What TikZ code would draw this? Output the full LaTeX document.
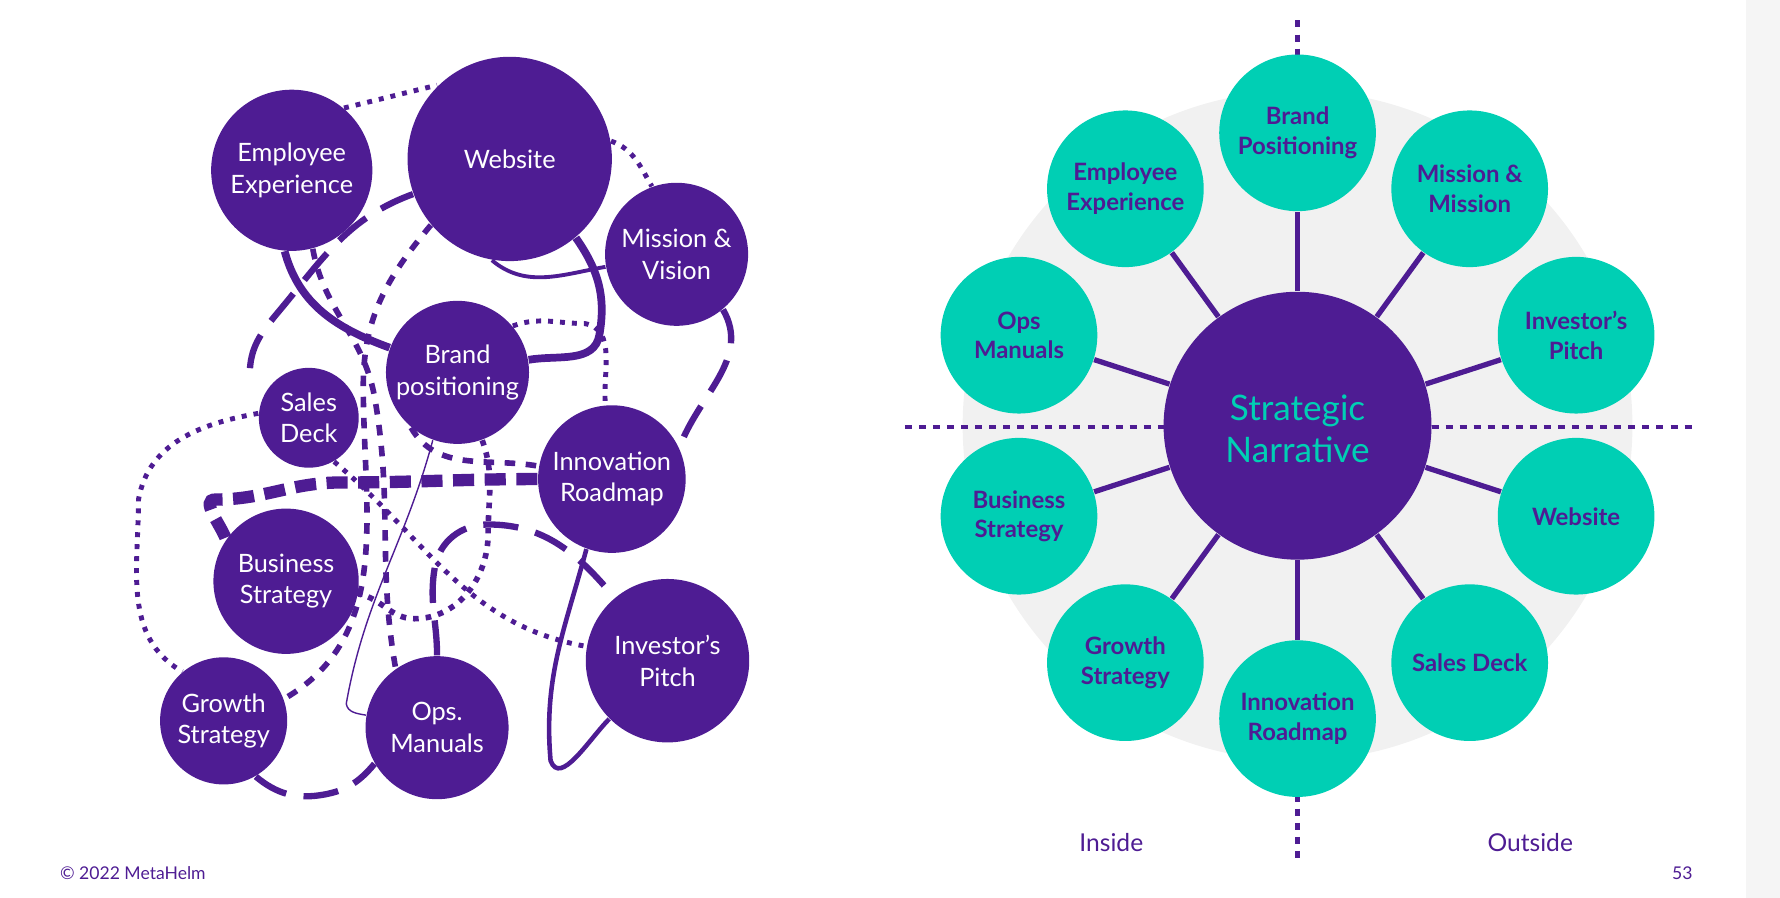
\documentclass[tikz,border=0pt]{standalone}
\usepackage{fontspec}
\setmainfont{Lato}
\usetikzlibrary{calc}
\definecolor{mhpurple}{HTML}{4E1C93}
\definecolor{mhteal}{HTML}{00CFB4}
\definecolor{mhgray}{HTML}{F1F1F1}
\tikzset{
  bub/.style={circle,fill=mhpurple,text=white,align=center,inner sep=0pt,
    minimum size=#1*0.01135cm,font=\fontsize{7.2}{9}\selectfont},
  sat/.style={circle,fill=mhteal,text=mhpurple,align=center,inner sep=0pt,
    minimum size=138*0.01135cm,font=\bfseries\fontsize{6.8}{8.4}\selectfont},
  link/.style={mhpurple,line width=#1},
  link/.default=1pt,
}
\begin{document}
\begin{tikzpicture}[x=0.01135cm,y=-0.01135cm]
\useasboundingbox (0,0) rectangle (1568,791);
\fill[mhgray!70] (1538,0) rectangle (1568,791);

% % Left: tangle of channels
\node[bub=142] (emp) at (257,150) {Employee\\Experience};
\node[bub=180] (web) at (449,140) {Website};
\node[bub=126] (mis) at (596,224) {Mission \&\\Vision};
\node[bub=126] (bra) at (403,328) {Brand\\positioning};
\node[bub=88]  (sal) at (272,368) {Sales\\Deck};
\node[bub=130] (inn) at (539,422) {Innovation\\Roadmap};
\node[bub=128] (bus) at (252,512) {Business\\Strategy};
\node[bub=144] (inv) at (588,582) {Investor’s\\Pitch};
\node[bub=112] (gro) at (197,635) {Growth\\Strategy};
\node[bub=126] (ops) at (385,641) {Ops.\\Manuals};

\draw[link=2.2pt] (emp.-95) to[out=-75,in=160] (bra.160);
\draw[link=2.2pt] (web.-50) to[out=-55,in=80] (528,295) to[out=-100,in=10] (bra.10);
\draw[link=1.1pt] (web.-100) to[out=-40,in=190] (mis.190);
\draw[link=1.3pt] (inn.-110) to[out=-105,in=95] (485,670) to[out=-70,in=-135] (inv.-135);
\draw[link=0.4pt] (bra.-110) to[out=-105,in=80] (305,620) to[out=-80,in=170] (ops.170);
\draw[link=3.5pt,dash pattern=on 6pt off 3pt] (inn.180) to[out=180,in=0] (300,425)
  to[out=180,in=0] (190,440) to[out=180,in=110] (bus.145);
\draw[link=1.6pt,dash pattern=on 3pt off 3pt] (emp.-75) to[out=-80,in=100] (330,350)
  to[out=-80,in=100] (ops.125);
\draw[link=1.6pt,dash pattern=on 3pt off 3pt] (web.-140) to[out=-130,in=90] (320,340)
  to[out=-90,in=30] (gro.20);
\draw[link=1.6pt,dash pattern=on 3pt off 3pt] (bra.-130) to[out=-60,in=170] (inn.170);
\draw[link=1.8pt,dash pattern=on 10pt off 5pt] (web.-160) to[out=-160,in=50] (245,275)
  to[out=-130,in=90] (220,330);
\draw[link=1.8pt,dash pattern=on 10pt off 5pt] (mis.-50) to[out=-60,in=70] (inn.25);
\draw[link=1.8pt,dash pattern=on 10pt off 5pt] (gro.-60) to[out=-40,in=190] (285,700)
  to[out=10,in=-130] (ops.-150);
\draw[link=1.8pt,dash pattern=on 10pt off 5pt] (ops.90) to[out=90,in=-100] (383,500)
  to[out=80,in=180] (430,462) to[out=0,in=130] (inv.130);
\draw[link=1.4pt,dotted] (emp.50) -- (385,75);
\draw[link=1.4pt,dotted] (web.10) to[out=-20,in=120] (mis.110);
\draw[link=1.4pt,dotted] (bra.40) to[out=20,in=180] (515,285) to[out=-10,in=95] (inn.95);
\draw[link=1.4pt,dotted] (sal.175) to[out=190,in=80] (122,440) to[out=-90,in=150] (gro.130);
\draw[link=1.4pt,dotted] (sal.-60) to[out=-40,in=170] (inv.170);
\draw[link=1.6pt,dotted] (bra.-70) to[out=-70,in=90] (430,470) to[out=-90,in=0] (365,545)
  to[out=180,in=-10] (bus.-10);

% % Right: hub and spokes
\coordinate (hub) at (1143,375);
\fill[mhgray] (hub) circle (295);
\draw[mhpurple,line width=1.2pt,dash pattern=on 2pt off 2pt] (1143,18) -- (1143,48);
\draw[mhpurple,line width=1.2pt,dash pattern=on 2pt off 2pt] (1143,700) -- (1143,760);
\draw[mhpurple,line width=1.2pt,dash pattern=on 2pt off 2pt] (797,376) -- (1025,376);
\draw[mhpurple,line width=1.2pt,dash pattern=on 2pt off 2pt] (1261,376) -- (1492,376);
\node[circle,fill=mhpurple,text=mhteal,align=center,minimum size=236*0.01135cm,
  font=\fontsize{10}{12}\selectfont] (sn) at (1143,375) {\raisebox{0pt}[0pt][0pt]{}\\[-3pt]Strategic\\Narrative};
\foreach \ang/\txt [count=\i] in {90/Brand\\Positioning, 54/Mission \&\\Mission,
    18/Investor’s\\Pitch, -18/Website, -54/Sales Deck, -90/Innovation\\Roadmap,
    -126/Growth\\Strategy, -162/Business\\Strategy, 162/Ops\\Manuals,
    126/Employee\\Experience}{
  \node[sat] (s\i) at ($(hub)+({258*cos(\ang)},{-258*sin(\ang)})$) {\txt};
  \draw[mhpurple,line width=1.5pt] (sn) -- (s\i);
}
\node[text=mhpurple,font=\fontsize{7}{8}\selectfont] (ins) at (979,742) {Inside};
\node[text=mhpurple,font=\fontsize{7}{8}\selectfont] (out) at (1348,742) {Outside};
\node[text=mhpurple,font=\fontsize{5}{6}\selectfont,anchor=west] (cop) at (42,769) {© 2022 \textsc{MetaHelm}};
\node[text=mhpurple,font=\fontsize{5}{6}\selectfont] (pg) at (1482,769) {53};
\end{tikzpicture}
\end{document}
